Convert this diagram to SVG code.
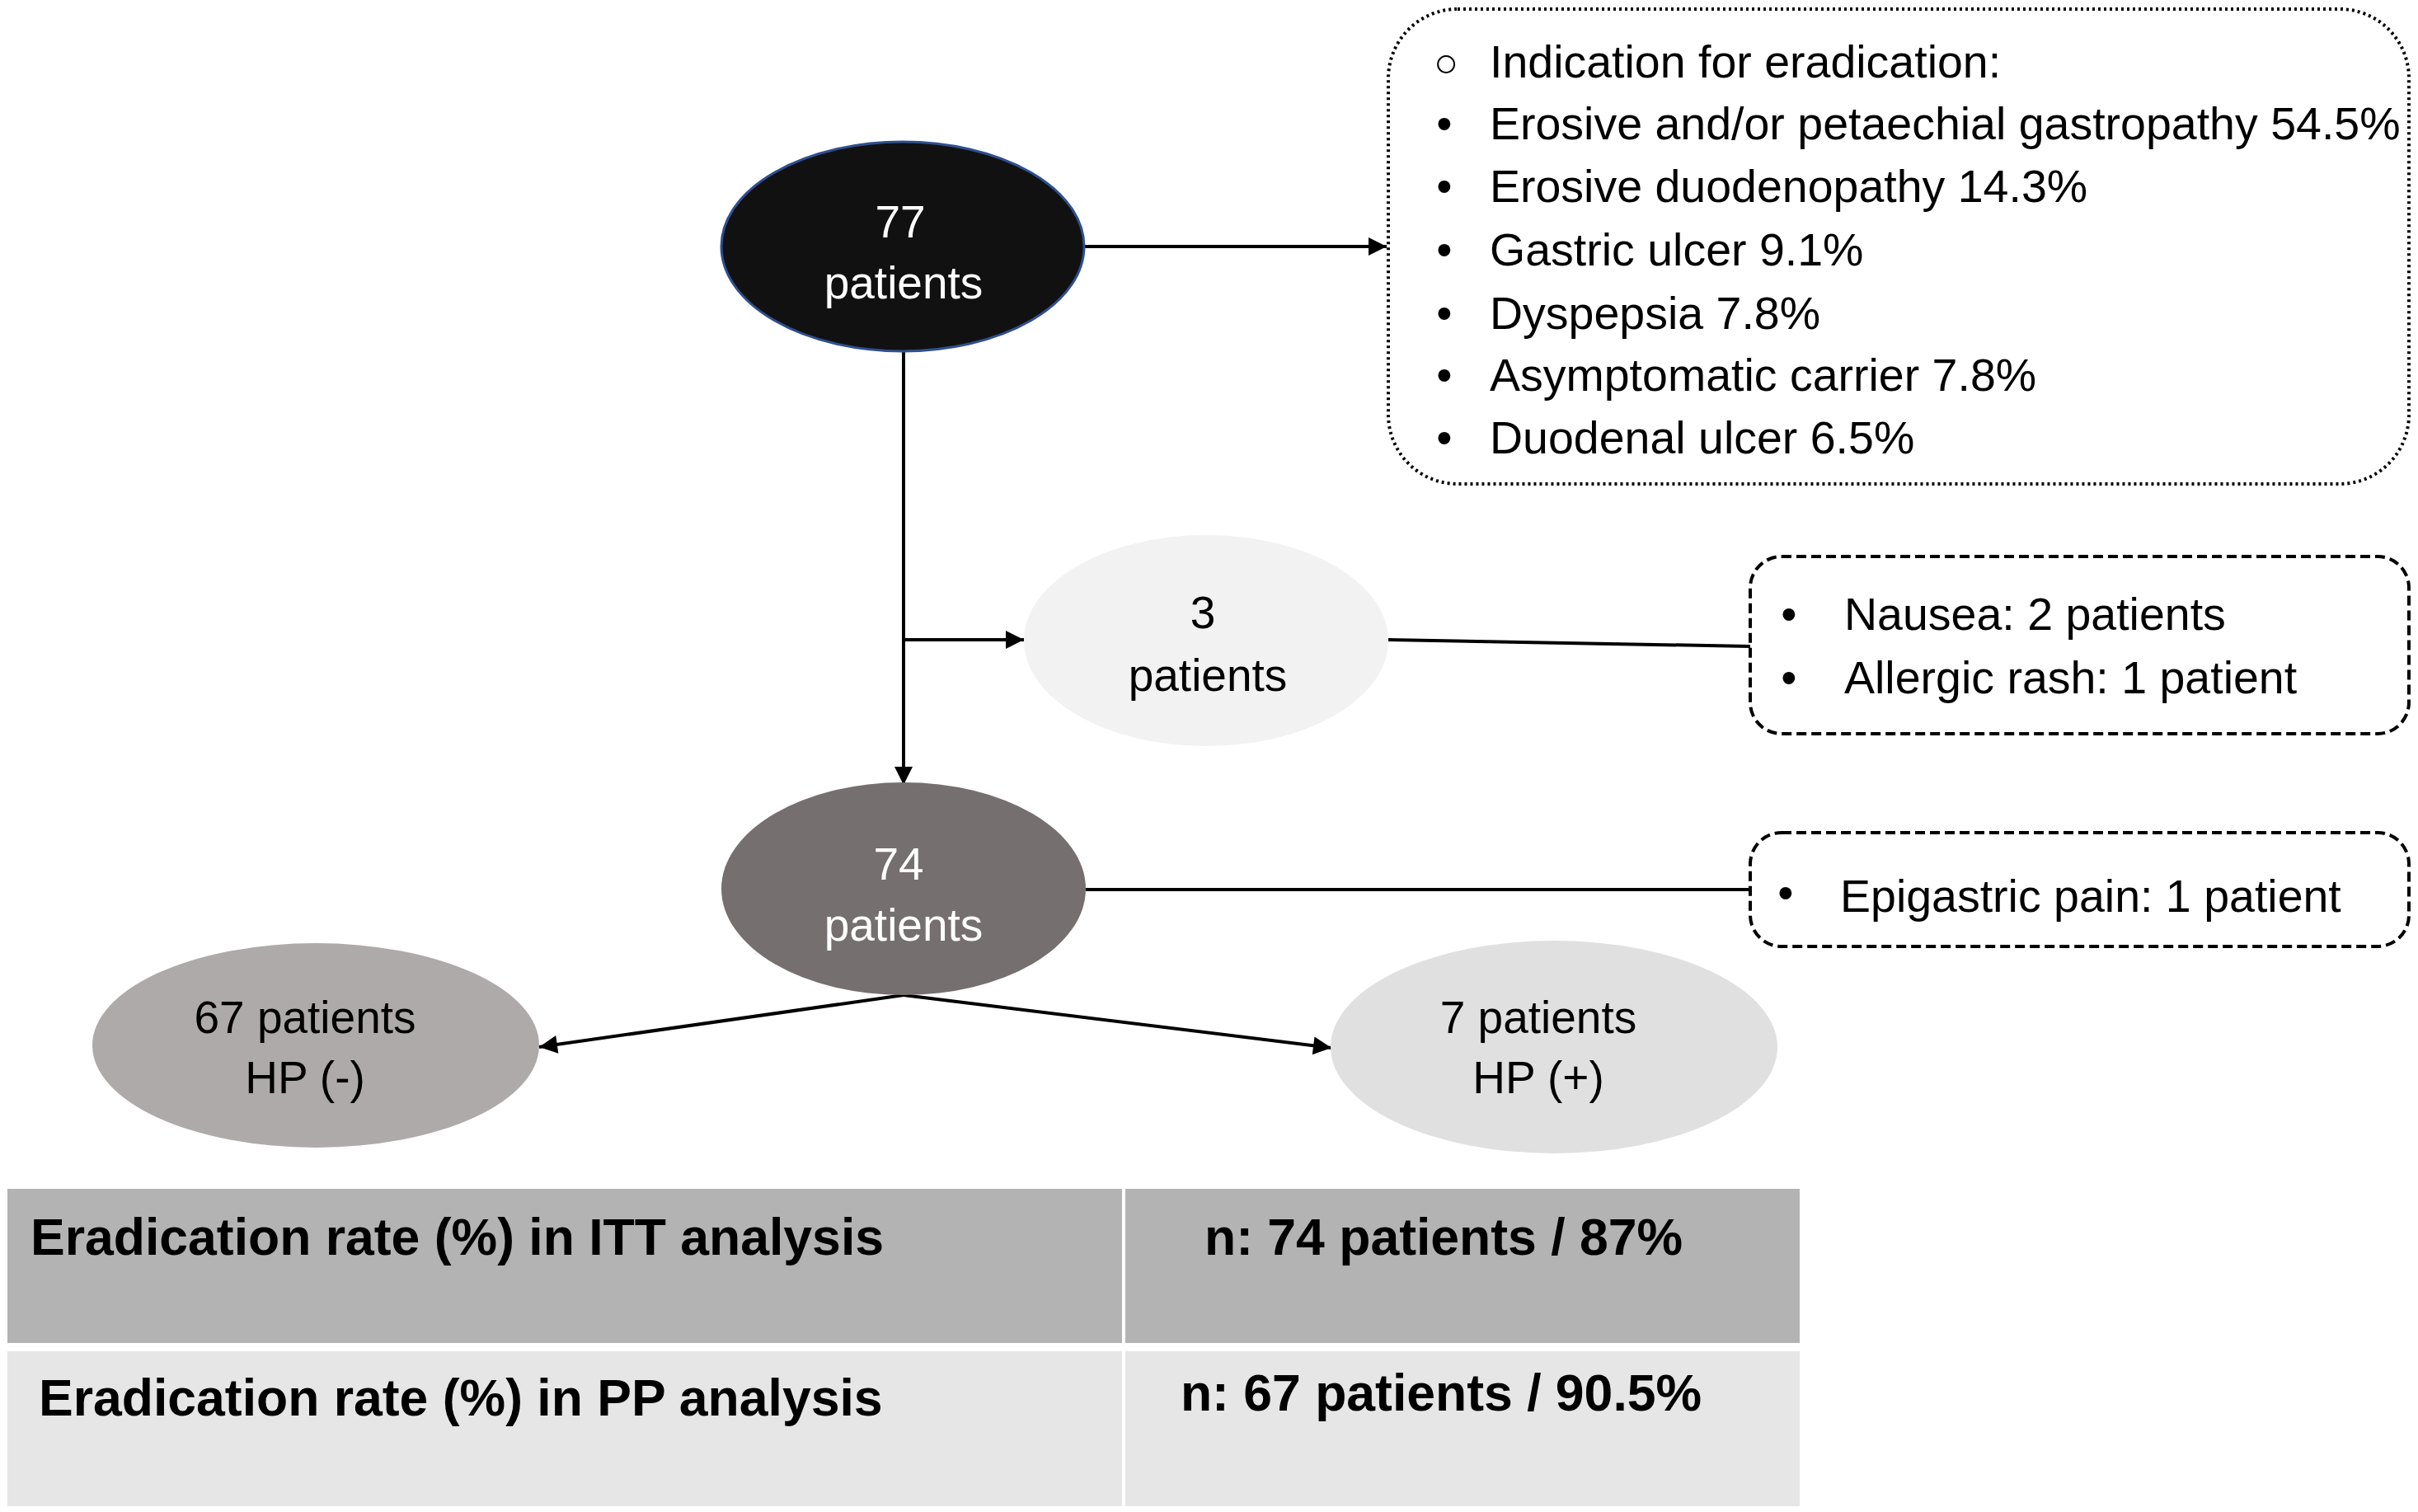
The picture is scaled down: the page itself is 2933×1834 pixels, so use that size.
<svg xmlns="http://www.w3.org/2000/svg" width="2933" height="1834" viewBox="0 0 2933 1834">
<style>
text{font-family:"Liberation Sans",Arial,sans-serif}
.n{font-size:55px;text-anchor:middle}
.w{fill:#ffffff}
.k{fill:#000000}
.li{font-size:55.5px;fill:#000}
.bu{font-size:55px;fill:#000;text-anchor:middle}
.tb{font-size:62.5px;font-weight:bold;fill:#000}
.con{stroke:#000;stroke-width:4;fill:none}
</style>
<defs>
<marker id="ah" viewBox="0 0 10 10" refX="10" refY="5" markerWidth="6" markerHeight="5.5" markerUnits="strokeWidth" orient="auto">
<path d="M0,0 L10,5 L0,10 z" fill="#000"/>
</marker>
</defs>
<rect width="2933" height="1834" fill="#ffffff"/>

<g id="connectors">
<line class="con" x1="1316" y1="299" x2="1682" y2="299" marker-end="url(#ah)"/>
<line class="con" x1="1096" y1="427" x2="1096" y2="952" marker-end="url(#ah)"/>
<line class="con" x1="1096" y1="776" x2="1242" y2="776" marker-end="url(#ah)"/>
<line class="con" x1="1684" y1="776" x2="2123" y2="784"/>
<line class="con" x1="1317" y1="1079" x2="2123" y2="1079"/>
<line class="con" x1="1096" y1="1207" x2="654" y2="1270" marker-end="url(#ah)"/>
<line class="con" x1="1096" y1="1207" x2="1615" y2="1271" marker-end="url(#ah)"/>
</g>

<g id="node-77">
<ellipse cx="1095" cy="299" rx="220" ry="127" fill="#111111" stroke="#2f4f8f" stroke-width="3"/>
<text class="n w" x="1092" y="288">77</text>
<text class="n w" x="1096" y="362">patients</text>
</g>

<g id="box-indication">
<rect x="1684" y="11" width="1238" height="576" rx="84" ry="84" fill="#fff" stroke="#000" stroke-width="4" stroke-dasharray="3 4"/>
<text x="1754" y="93" font-family="DejaVu Sans,sans-serif" font-size="50" text-anchor="middle" fill="#000">○</text>
<text class="li" x="1807" y="94">Indication for eradication:</text>
<text class="bu" x="1752" y="169">•</text>
<text class="li" x="1807" y="169">Erosive and/or petaechial gastropathy 54.5%</text>
<text class="bu" x="1752" y="245">•</text>
<text class="li" x="1807" y="245">Erosive duodenopathy 14.3%</text>
<text class="bu" x="1752" y="322">•</text>
<text class="li" x="1807" y="322">Gastric ulcer 9.1%</text>
<text class="bu" x="1752" y="399">•</text>
<text class="li" x="1807" y="399">Dyspepsia 7.8%</text>
<text class="bu" x="1752" y="474">•</text>
<text class="li" x="1807" y="474">Asymptomatic carrier 7.8%</text>
<text class="bu" x="1752" y="550">•</text>
<text class="li" x="1807" y="550">Duodenal ulcer 6.5%</text>
</g>

<g id="node-3">
<ellipse cx="1463" cy="777" rx="221" ry="128" fill="#f2f2f2"/>
<text class="n k" x="1459" y="762">3</text>
<text class="n k" x="1465" y="838">patients</text>
</g>

<g id="box-adverse">
<rect x="2123" y="675" width="799" height="215" rx="38" ry="38" fill="#fff" stroke="#000" stroke-width="4" stroke-dasharray="12 6"/>
<text class="bu" x="2170" y="764">•</text>
<text class="li" x="2237" y="764">Nausea: 2 patients</text>
<text class="bu" x="2170" y="841">•</text>
<text class="li" x="2237" y="841">Allergic rash: 1 patient</text>
</g>

<g id="node-74">
<ellipse cx="1096" cy="1078" rx="221" ry="129" fill="#756f6f"/>
<text class="n w" x="1090" y="1067">74</text>
<text class="n w" x="1096" y="1141">patients</text>
</g>

<g id="box-epigastric">
<rect x="2123" y="1010" width="799" height="138" rx="38" ry="38" fill="#fff" stroke="#000" stroke-width="4" stroke-dasharray="12 6"/>
<text class="bu" x="2166" y="1102">•</text>
<text class="li" x="2232" y="1106">Epigastric pain: 1 patient</text>
</g>

<g id="node-67">
<ellipse cx="383" cy="1268" rx="271" ry="124" fill="#aeaaaa"/>
<text class="n k" x="370" y="1253">67 patients</text>
<text class="n k" x="370" y="1326">HP (-)</text>
</g>

<g id="node-7">
<ellipse cx="1885" cy="1270" rx="271" ry="129" fill="#e0e0e0"/>
<text class="n k" x="1866" y="1253">7 patients</text>
<text class="n k" x="1866" y="1326">HP (+)</text>
</g>

<g id="table">
<rect x="9" y="1442" width="1352" height="187" fill="#b3b3b3"/>
<rect x="1365" y="1442" width="818" height="187" fill="#b3b3b3"/>
<rect x="9" y="1639" width="1352" height="188" fill="#e6e6e6"/>
<rect x="1365" y="1639" width="818" height="188" fill="#e6e6e6"/>
<text class="tb" x="37" y="1522">Eradication rate (%) in ITT analysis</text>
<text class="tb" x="1751" y="1522" text-anchor="middle">n: 74 patients / 87%</text>
<text class="tb" x="47" y="1717">Eradication rate (%) in PP analysis</text>
<text class="tb" x="1748" y="1711" text-anchor="middle">n: 67 patients / 90.5%</text>
</g>
</svg>
